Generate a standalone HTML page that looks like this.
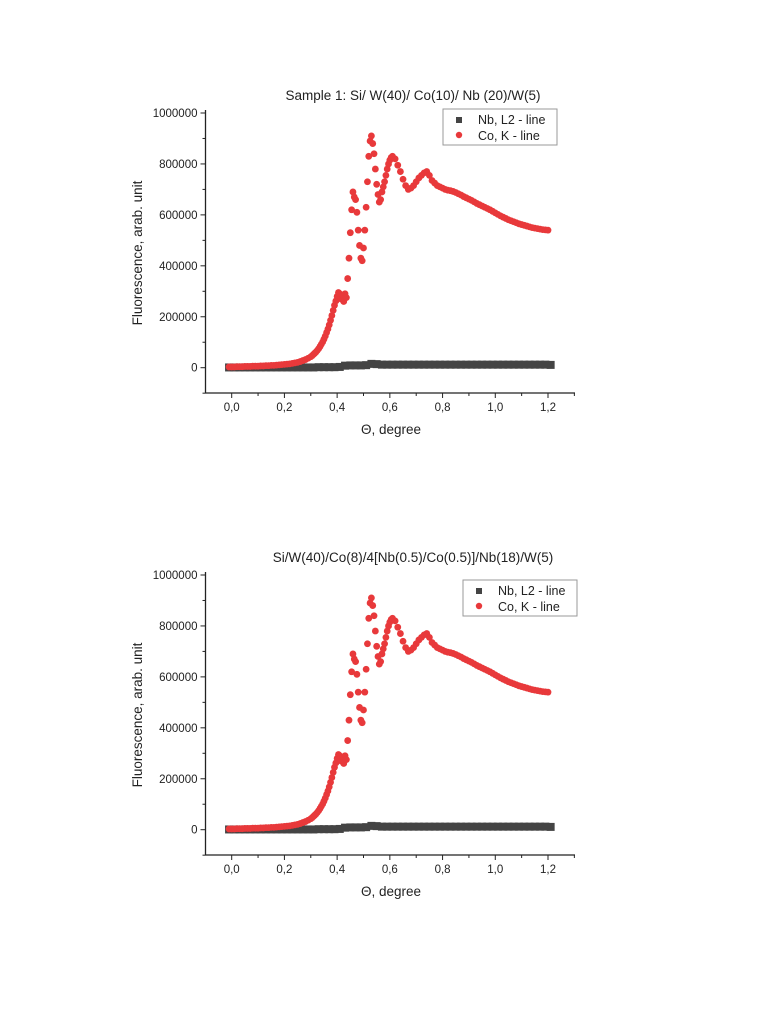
<!DOCTYPE html>
<html><head><meta charset="utf-8">
<style>
html,body{margin:0;padding:0;background:#fff;}
svg{display:block;font-family:"Liberation Sans",sans-serif;}
</style></head>
<body>
<svg id="chart" width="768" height="1024" viewBox="0 0 768 1024" xmlns="http://www.w3.org/2000/svg"></svg>
<script>
const yTicks=[0,200000,400000,600000,800000,1000000];
const yTickLabels=["0","200000","400000","600000","800000","1000000"];
const xTicks=[0,0.2,0.4,0.6,0.8,1.0,1.2];
const xTickLabels=["0,0","0,2","0,4","0,6","0,8","1,0","1,2"];
const coTheta=[-0.01,0,0.01,0.02,0.03,0.04,0.05,0.06,0.07,0.08,0.09,0.10,0.11,0.12,0.13,0.14,0.15,0.16,0.17,0.18,0.19,0.20,0.21,0.22,0.23,0.24,0.25,0.26,0.27,0.28,0.29,0.30,0.305,0.31,0.315,0.32,0.325,0.33,0.335,0.34,0.345,0.35,0.355,0.36,0.365,0.37,0.375,0.38,0.385,0.39,0.395,0.40,0.405,0.41,0.415,0.42,0.425,0.43,0.435,0.44,0.445,0.45,0.455,0.46,0.465,0.47,0.475,0.48,0.485,0.49,0.495,0.50,0.505,0.51,0.515,0.52,0.525,0.53,0.535,0.54,0.545,0.55,0.555,0.56,0.565,0.57,0.575,0.58,0.585,0.59,0.595,0.60,0.605,0.61,0.62,0.63,0.64,0.65,0.66,0.67,0.68,0.69,0.70,0.71,0.72,0.73,0.74,0.75,0.76,0.77,0.78,0.79,0.80,0.81,0.82,0.83,0.84,0.85,0.86,0.87,0.88,0.89,0.90,0.91,0.92,0.93,0.94,0.95,0.96,0.97,0.98,0.99,1.00,1.01,1.02,1.03,1.04,1.05,1.06,1.07,1.08,1.09,1.10,1.11,1.12,1.13,1.14,1.15,1.16,1.17,1.18,1.19,1.20];
const coValK=[3,3,3,4,4,4,5,5,5,6,6,6,7,7,8,8,9,9,10,11,12,13,14,15,17,19,21,24,28,32,37,43,47,52,57,62,68,75,83,92,101,112,124,138,152,168,186,205,225,245,262,280,295,290,270,285,260,290,275,350,430,530,620,690,670,660,610,540,480,430,420,470,540,630,730,830,890,910,880,840,780,720,680,650,660,690,710,730,755,780,800,815,825,830,820,795,770,740,715,700,705,715,730,745,755,765,770,755,735,725,715,710,705,700,697,695,692,688,683,678,672,667,662,657,651,645,640,635,630,625,620,614,608,602,596,591,586,581,577,573,569,565,562,559,556,553,550,548,546,544,542,541,540];
const nbTheta=[-0.01,0.01,0.03,0.05,0.07,0.09,0.11,0.13,0.15,0.17,0.19,0.21,0.23,0.25,0.27,0.29,0.31,0.33,0.35,0.37,0.39,0.41,0.43,0.45,0.47,0.49,0.51,0.53,0.55,0.57,0.59,0.61,0.63,0.65,0.67,0.69,0.71,0.73,0.75,0.77,0.79,0.81,0.83,0.85,0.87,0.89,0.91,0.93,0.95,0.97,0.99,1.01,1.03,1.05,1.07,1.09,1.11,1.13,1.15,1.17,1.19,1.21];
const nbValK=[1,1,1,1,1,1,1,1,1,1,1,1,1,1,1,1,1,2,2,2,2,3,8,9,9,9,10,15,14,12,12,12,12,12,12,12,12,12,12,12,12,12,12,12,12,12,12,12,12,12,12,12,12,12,12,12,12,12,12,12,12,11];

const NS="http://www.w3.org/2000/svg";
const svg=document.getElementById('chart');
function mk(tag,attrs,parent){const e=document.createElementNS(NS,tag);for(const k in attrs)e.setAttribute(k,attrs[k]);(parent||svg).appendChild(e);return e;}

function drawChart(oy,title,lg,nameP){
  const g=mk('g',{});
  
  
  const L=205.5,R=575,T=oy+113,B=oy+393;
  const xs=v=>231.7+(v/1.2)*(548-231.7);
  const ys=v=>(oy+367.7)-v/1000000*254.7;
  const ax=mk('line',{x1:L,y1:T-3,x2:L,y2:B,stroke:'#222','stroke-width':1.3},g);
  
  
  const bx=mk('line',{x1:L,y1:B,x2:R,y2:B,stroke:'#222','stroke-width':1.3},g);
  
  
  yTicks.forEach((v,i)=>{
    const y=ys(v);
    mk('line',{x1:L-5,y1:y,x2:L,y2:y,stroke:'#222','stroke-width':1},g);
    const t=mk('text',{x:L-8,y:y+4,'text-anchor':'end','font-size':11.5,fill:'#222'},g);
    t.textContent=yTickLabels[i];
    
    
    const m=ys(v+100000);
    if(m>=T-1) mk('line',{x1:L-3,y1:m,x2:L,y2:m,stroke:'#222','stroke-width':1},g);
  });
  mk('line',{x1:L-3,y1:ys(-100000),x2:L,y2:ys(-100000),stroke:'#222','stroke-width':1},g);
  xTicks.forEach((v,i)=>{
    const x=xs(v);
    mk('line',{x1:x,y1:B,x2:x,y2:B+5,stroke:'#222','stroke-width':1},g);
    const t=mk('text',{x:x,y:B+18,'text-anchor':'middle','font-size':11.5,fill:'#222'},g);
    t.textContent=xTickLabels[i];
    
    
  });
  for(let k=-1;k<=13;k+=2){const x=xs(k/10);if(x>L&&x<=R)mk('line',{x1:x,y1:B,x2:x,y2:B+3,stroke:'#222','stroke-width':1},g);}
  const tt=mk('text',{x:413,y:oy+100,'text-anchor':'middle','font-size':13.5,fill:'#222'},g);
  tt.textContent=title;
  
  
  const xl=mk('text',{x:391,y:B+41,'text-anchor':'middle','font-size':13.5,fill:'#222'},g);
  xl.textContent='Θ, degree';
  
  
  const yl=mk('text',{x:0,y:0,'text-anchor':'middle','font-size':13.5,fill:'#222',transform:`translate(142,${oy+253}) rotate(-90)`},g);
  yl.textContent='Fluorescence, arab. unit';
  
  
  nbTheta.forEach((v,i)=>{
    const r=mk('rect',{x:xs(v)-4,y:ys(nbValK[i]*1000)-4,width:8,height:8,fill:'#444'},g);
    
    
  });
  coTheta.forEach((v,i)=>{
    const c=mk('circle',{cx:xs(v),cy:ys(coValK[i]*1000),r:3.4,fill:'#e8393b'},g);
    
    
  });
  const lgG=mk('g',{},g);
  
  
  mk('rect',{x:lg[0],y:lg[1],width:lg[2],height:36,fill:'#fff',stroke:'#999','stroke-width':1},lgG);
  mk('rect',{x:lg[0]+13,y:lg[1]+8,width:6,height:6,fill:'#444'},lgG);
  mk('circle',{cx:lg[0]+16,cy:lg[1]+26,r:3.2,fill:'#e8393b'},lgG);
  const l1=mk('text',{x:lg[0]+35,y:lg[1]+15,'font-size':12.5,fill:'#222'},lgG);
  l1.textContent='Nb, L2 - line';
  
  
  const l2=mk('text',{x:lg[0]+35,y:lg[1]+31,'font-size':12.5,fill:'#222'},lgG);
  l2.textContent='Co, K - line';
  
  
}
drawChart(0,'Sample 1: Si/ W(40)/ Co(10)/ Nb (20)/W(5)',[443,109,114],'sample1');
drawChart(462,'Si/W(40)/Co(8)/4[Nb(0.5)/Co(0.5)]/Nb(18)/W(5)',[463,580,114],'sample2');
</script>
</body></html>
